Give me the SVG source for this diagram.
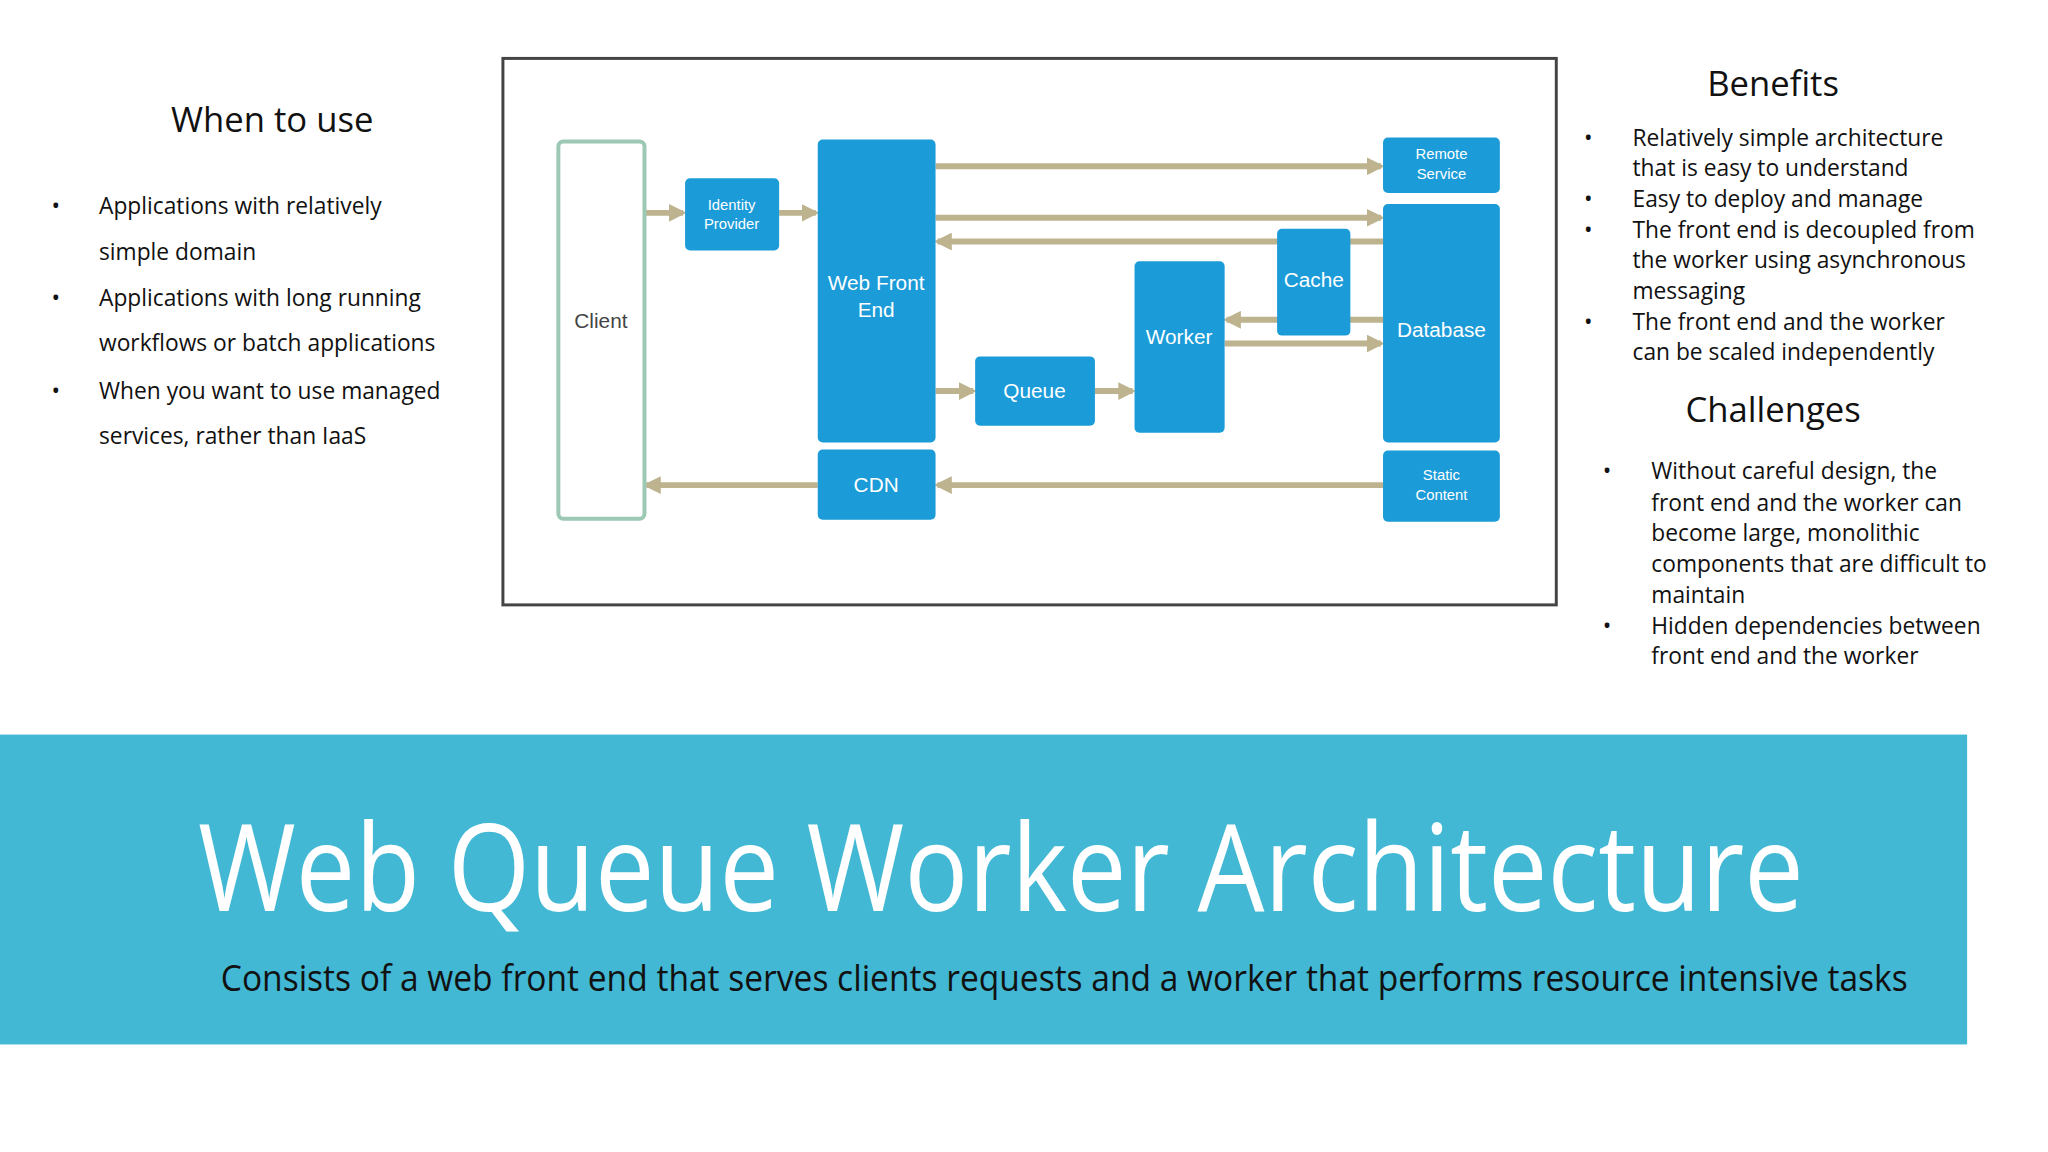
<svg xmlns="http://www.w3.org/2000/svg" width="2048" height="1152" viewBox="0 0 2048 1152">
<style>
.t{font-family:"Open Sans","Noto Sans",sans-serif;fill:#111}
.h{font-size:35px;text-anchor:middle}
.b{font-size:23px}
.n{fill:#1b9bd7}
.nl{font-family:"Liberation Sans",Arial,sans-serif;fill:#fff;text-anchor:middle;font-size:21px}
.ns{font-size:15px}
.c{stroke:#bdb38f;stroke-width:6;fill:none;marker-end:url(#ah)}
</style>
<defs><marker id="ah" viewBox="0 0 10 10" refX="8" refY="5" markerWidth="3" markerHeight="3" orient="auto" markerUnits="strokeWidth"><path d="M0,0L10,5L0,10z" fill="#bdb38f"/></marker></defs>
<rect width="2048" height="1152" fill="#fff"/>
<g transform="scale(0.99)">
<g id="left">
<text class="t h" x="275" y="133">When to use</text>
<g class="t b">
<text x="52" y="216">•</text><text x="100" y="216">Applications with relatively</text>
<text x="100" y="263">simple domain</text>
<text x="52" y="309">•</text><text x="100" y="309">Applications with long running</text>
<text x="100" y="355">workflows or batch applications</text>
<text x="52" y="403">•</text><text x="100" y="403">When you want to use managed</text>
<text x="100" y="449">services, rather than IaaS</text>
</g></g>
<g id="right">
<text class="t h" x="1791" y="97">Benefits</text>
<g class="t b">
<text x="1600" y="147">•</text><text x="1649" y="147">Relatively simple architecture</text>
<text x="1649" y="178">that is easy to understand</text>
<text x="1600" y="209">•</text><text x="1649" y="209">Easy to deploy and manage</text>
<text x="1600" y="240">•</text><text x="1649" y="240">The front end  is decoupled from</text>
<text x="1649" y="271">the worker using asynchronous</text>
<text x="1649" y="302">messaging</text>
<text x="1600" y="333">•</text><text x="1649" y="333">The front end and the worker</text>
<text x="1649" y="364">can be scaled independently</text>
</g>
<text class="t h" x="1791" y="426">Challenges</text>
<g class="t b">
<text x="1619" y="484">•</text><text x="1668" y="484">Without careful design, the</text>
<text x="1668" y="516">front end and the worker can</text>
<text x="1668" y="546">become large, monolithic</text>
<text x="1668" y="578">components that are difficult to</text>
<text x="1668" y="609">maintain</text>
<text x="1619" y="640">•</text><text x="1668" y="640">Hidden dependencies between</text>
<text x="1668" y="671">front end and the worker</text>
</g></g>
<rect x="508" y="59" width="1064" height="552" fill="#fff" stroke="#444" stroke-width="3"/>
<g id="connectors">
<line class="c" x1="651" y1="215" x2="690" y2="215"/>
<line class="c" x1="787" y1="215" x2="824" y2="215"/>
<line class="c" x1="945" y1="168" x2="1395" y2="168"/>
<line class="c" x1="945" y1="220" x2="1395" y2="220"/>
<line class="c" x1="1397" y1="244" x2="947" y2="244"/>
<line class="c" x1="1397" y1="323" x2="1239" y2="323"/>
<line class="c" x1="1237" y1="347" x2="1395" y2="347"/>
<line class="c" x1="945" y1="395" x2="983" y2="395"/>
<line class="c" x1="1106" y1="395" x2="1144" y2="395"/>
<line class="c" x1="1397" y1="490" x2="947" y2="490"/>
<line class="c" x1="826" y1="490" x2="653" y2="490"/>
</g>
<g id="client"><rect x="564" y="143" width="87" height="381" rx="5" fill="#fff" stroke="#9cc8b4" stroke-width="4"/><text class="nl" x="607" y="331" style="fill:#444">Client</text></g>
<g id="idp"><rect class="n" x="692" y="180" width="95" height="73" rx="5"/><text class="nl ns" x="739" y="212">Identity</text><text class="nl ns" x="739" y="231">Provider</text></g>
<g id="wfe"><rect class="n" x="826" y="141" width="119" height="306" rx="5"/><text class="nl" x="885" y="293">Web Front</text><text class="nl" x="885" y="320">End</text></g>
<g id="cdn"><rect class="n" x="826" y="454" width="119" height="71" rx="5"/><text class="nl" x="885" y="497">CDN</text></g>
<g id="queue"><rect class="n" x="985" y="360" width="121" height="70" rx="5"/><text class="nl" x="1045" y="402">Queue</text></g>
<g id="worker"><rect class="n" x="1146" y="264" width="91" height="173" rx="5"/><text class="nl" x="1191" y="347">Worker</text></g>
<g id="cache"><rect class="n" x="1290" y="231" width="74" height="108" rx="5"/><text class="nl" x="1327" y="290">Cache</text></g>
<g id="remote"><rect class="n" x="1397" y="139" width="118" height="56" rx="5"/><text class="nl ns" x="1456" y="161">Remote</text><text class="nl ns" x="1456" y="181">Service</text></g>
<g id="db"><rect class="n" x="1397" y="206" width="118" height="241" rx="5"/><text class="nl" x="1456" y="340">Database</text></g>
<g id="static"><rect class="n" x="1397" y="455" width="118" height="72" rx="5"/><text class="nl ns" x="1456" y="485">Static</text><text class="nl ns" x="1456" y="505">Content</text></g>
<g id="banner">
<rect x="0" y="742" width="1987" height="313" fill="#42b8d4"/>
<text x="200" y="920" font-family="'Open Sans','Noto Sans',sans-serif" font-size="122" fill="#fff" textLength="1622" lengthAdjust="spacingAndGlyphs">Web Queue Worker Architecture</text>
<text x="223" y="1001" font-family="'Open Sans','Noto Sans',sans-serif" font-size="36" fill="#111" textLength="1704" lengthAdjust="spacingAndGlyphs">Consists of a web front end that serves clients requests and a worker that performs resource intensive tasks</text>
</g>
</g>
</svg>
